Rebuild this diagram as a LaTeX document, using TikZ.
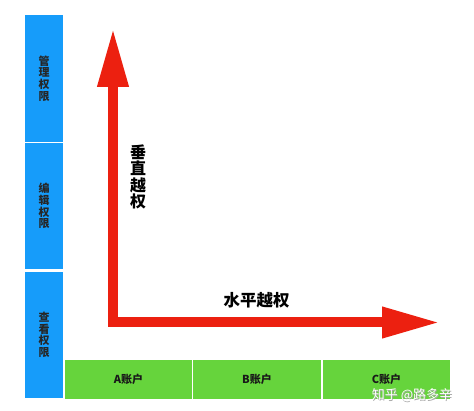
\documentclass[tikz,border=0pt]{standalone}
\usepackage{fontspec}
\setmainfont{Noto Sans CJK SC}
\usetikzlibrary{arrows.meta}
\definecolor{barblue}{RGB}{22,156,250}
\definecolor{bargreen}{RGB}{102,212,60}
\definecolor{arrred}{RGB}{236,32,16}
\tikzset{
  bluebar/.style={fill=barblue, draw=none, minimum width=38pt, inner sep=0pt,
    font=\fontsize{11}{11.6}\selectfont\bfseries, align=center, text=black!85},
  greenbar/.style={fill=bargreen, draw=none, minimum height=39pt, inner sep=0pt,
    font=\fontsize{11}{13}\selectfont\bfseries, text=black!90},
  bigarrow/.style={draw=arrred, line width=10pt, line join=miter,
    {Triangle[length=59pt,width=29pt]}-{Triangle[length=58pt,width=29pt]}},
  arrlabel/.style={font=\fontsize{16.5}{17}\selectfont\bfseries, text=black, align=center, inner sep=0pt},
}
\begin{document}
\begin{tikzpicture}[x=1pt,y=-1pt]
\useasboundingbox[fill=white] (0,0) rectangle (474,411);
% blue bars
\node[bluebar, minimum height=127pt] (b1) at (44,78.5) {管\\理\\权\\限};
\node[bluebar, minimum height=126pt] (b2) at (44,206) {编\\辑\\权\\限};
\node[bluebar, minimum height=126pt] (b3) at (44,335) {查\\看\\权\\限};
% green bars
\node[greenbar, minimum width=127pt] (g1) at (128.5,379.5) {A账户};
\node[greenbar, minimum width=128pt] (g2) at (257,379.5) {B账户};
\node[greenbar, minimum width=127pt] (g3) at (386.5,379.5) {C账户};
% arrows
\coordinate (top) at (113,28);
\coordinate (corner) at (113,322.5);
\coordinate (right) at (440,322.5);
\draw[bigarrow] (top) -- (corner) -- (right);
\node[arrlabel, font=\fontsize{16}{16.3}\selectfont\bfseries] (vlab) at (138,177) {垂\\直\\越\\权};
\node[arrlabel] (hlab) at (256.5,300) {水平越权};
% watermark
\node[font=\fontsize{13}{15}\selectfont, text=black!35] (wm0) at (412.7,395.7) {知乎 @路多辛};
\node[font=\fontsize{13}{15}\selectfont, text=white] (wm) at (412,395) {知乎 @路多辛};
\end{tikzpicture}
\end{document}
